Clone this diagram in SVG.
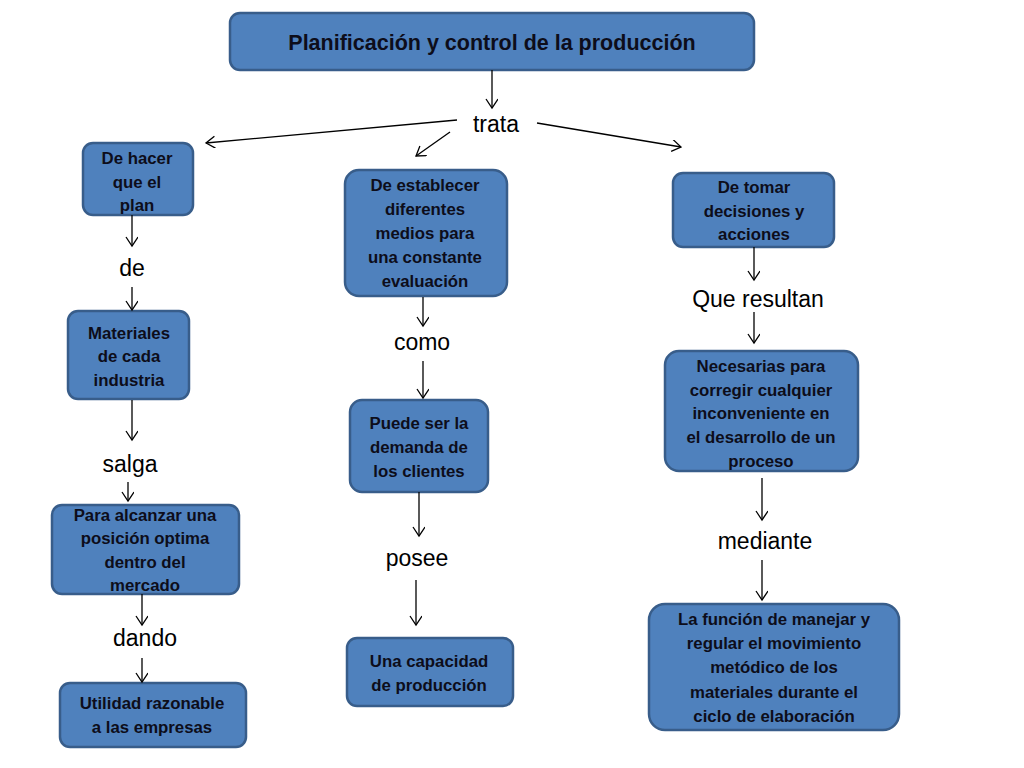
<svg xmlns="http://www.w3.org/2000/svg" width="1024" height="768" viewBox="0 0 1024 768">
<style>
.box{fill:#4F81BD;stroke:#385D8A;stroke-width:2.5}
.bt{font-family:"Liberation Sans",Arial,sans-serif;font-weight:bold;font-size:16.8px;fill:#0d0d1a;text-anchor:middle}
.tt{font-family:"Liberation Sans",Arial,sans-serif;font-weight:bold;font-size:21.5px;fill:#0d0d1a;text-anchor:middle}
.lb{font-family:"Liberation Sans",Arial,sans-serif;font-size:23px;fill:#000;text-anchor:middle}
.cn{stroke:#000;stroke-width:1.3;fill:none;marker-end:url(#ah)}
</style>
<defs>
<marker id="ah" markerUnits="userSpaceOnUse" markerWidth="16" markerHeight="16" refX="10" refY="6" orient="auto">
<path d="M1,0 L10,6 L1,12" fill="none" stroke="#000" stroke-width="1.3"/>
</marker>
</defs>
<rect width="1024" height="768" fill="#fff"/>
<g id="title"><rect class="box" x="230" y="13" width="524" height="57" rx="10"/><text class="tt" x="492" y="50">Planificación y control de la producción</text></g>
<g id="trata"><text class="lb" x="496" y="132">trata</text></g>
<g id="n1"><rect class="box" x="83" y="143" width="110" height="72" rx="10"/><text class="bt" x="137" y="164">De hacer</text><text class="bt" x="137" y="188">que el</text><text class="bt" x="137" y="211">plan</text></g>
<g id="l_de"><text class="lb" x="132" y="276">de</text></g>
<g id="n2"><rect class="box" x="68" y="311" width="121" height="88" rx="10"/><text class="bt" x="129" y="339">Materiales</text><text class="bt" x="129" y="362">de cada</text><text class="bt" x="129" y="386">industria</text></g>
<g id="l_salga"><text class="lb" x="130" y="472">salga</text></g>
<g id="n3"><rect class="box" x="52" y="505" width="187" height="89" rx="10"/><text class="bt" x="145" y="521">Para alcanzar una</text><text class="bt" x="145" y="544">posición optima</text><text class="bt" x="145" y="568">dentro del</text><text class="bt" x="145" y="591">mercado</text></g>
<g id="l_dando"><text class="lb" x="145" y="646">dando</text></g>
<g id="n4"><rect class="box" x="60" y="683" width="186" height="64" rx="10"/><text class="bt" x="152" y="709">Utilidad razonable</text><text class="bt" x="152" y="733">a las empresas</text></g>
<g id="n5"><rect class="box" x="345" y="170" width="162" height="126" rx="14"/><text class="bt" x="425" y="191">De establecer</text><text class="bt" x="425" y="215">diferentes</text><text class="bt" x="425" y="239">medios para</text><text class="bt" x="425" y="263">una constante</text><text class="bt" x="425" y="287">evaluación</text></g>
<g id="l_como"><text class="lb" x="422" y="350">como</text></g>
<g id="n6"><rect class="box" x="350" y="400" width="138" height="92" rx="12"/><text class="bt" x="419" y="429">Puede ser la</text><text class="bt" x="419" y="453">demanda de</text><text class="bt" x="419" y="477">los clientes</text></g>
<g id="l_posee"><text class="lb" x="417" y="566">posee</text></g>
<g id="n7"><rect class="box" x="347" y="638" width="166" height="68" rx="10"/><text class="bt" x="429" y="667">Una capacidad</text><text class="bt" x="429" y="691">de producción</text></g>
<g id="n8"><rect class="box" x="673" y="173" width="161" height="74" rx="10"/><text class="bt" x="754" y="193">De tomar</text><text class="bt" x="754" y="217">decisiones y</text><text class="bt" x="754" y="240">acciones</text></g>
<g id="l_que"><text class="lb" x="758" y="307">Que resultan</text></g>
<g id="n9"><rect class="box" x="665" y="351" width="193" height="120" rx="14"/><text class="bt" x="761" y="372">Necesarias para</text><text class="bt" x="761" y="396">corregir cualquier</text><text class="bt" x="761" y="419">inconveniente en</text><text class="bt" x="761" y="443">el desarrollo de un</text><text class="bt" x="761" y="467">proceso</text></g>
<g id="l_mediante"><text class="lb" x="765" y="549">mediante</text></g>
<g id="n10"><rect class="box" x="649" y="604" width="250" height="126" rx="16"/><text class="bt" x="774" y="625">La función de manejar y</text><text class="bt" x="774" y="649">regular el movimiento</text><text class="bt" x="774" y="673">metódico de los</text><text class="bt" x="774" y="698">materiales durante el</text><text class="bt" x="774" y="722">ciclo de elaboración</text></g>
<g id="connectors">
<line class="cn" x1="492" y1="70" x2="492" y2="108"/>
<line class="cn" x1="457" y1="120" x2="206" y2="143"/>
<line class="cn" x1="450" y1="132" x2="416" y2="156"/>
<line class="cn" x1="537" y1="123" x2="681" y2="147"/>
<line class="cn" x1="132" y1="215" x2="132" y2="246"/>
<line class="cn" x1="132" y1="287" x2="132" y2="310"/>
<line class="cn" x1="132" y1="400" x2="132" y2="440"/>
<line class="cn" x1="128" y1="482" x2="128" y2="501"/>
<line class="cn" x1="142" y1="594" x2="142" y2="625"/>
<line class="cn" x1="142" y1="658" x2="142" y2="682"/>
<line class="cn" x1="423" y1="297" x2="423" y2="326"/>
<line class="cn" x1="423" y1="361" x2="423" y2="398"/>
<line class="cn" x1="419" y1="492" x2="419" y2="536"/>
<line class="cn" x1="416" y1="580" x2="416" y2="625"/>
<line class="cn" x1="754" y1="247" x2="754" y2="280"/>
<line class="cn" x1="754" y1="312" x2="754" y2="343"/>
<line class="cn" x1="762" y1="478" x2="762" y2="520"/>
<line class="cn" x1="762" y1="560" x2="762" y2="600"/>
</g>
</svg>
